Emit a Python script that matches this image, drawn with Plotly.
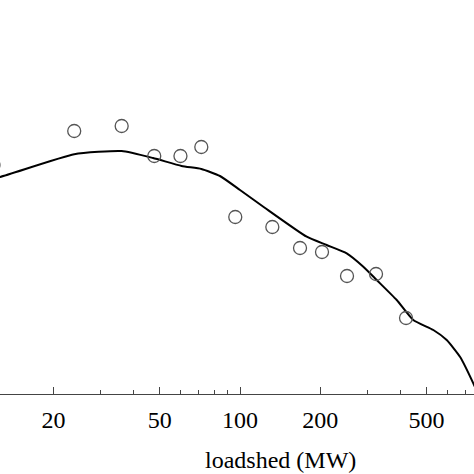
import plotly.graph_objects as go

# observed data (open circles)
obs_x = [11.9, 23.9, 36.0, 47.7, 59.8, 71.6, 96.0, 132.2, 167.9, 203.0, 251.9, 323.6, 419.3]
obs_y = [2.29, 2.63, 2.68, 2.38, 2.38, 2.47, 1.77, 1.67, 1.46, 1.42, 1.18, 1.20, 0.76]

# model curve
fit_x = [11.0, 12.6, 23.9, 36.0, 47.2, 60.4, 71.6, 84.1, 100.0, 122.3, 177.9, 211.3,
         251.3, 290.0, 325.5, 386.9, 446.4, 530.8, 595.7, 668.1, 749.6, 780.0]
fit_y = [2.14, 2.17, 2.397, 2.43, 2.36, 2.28, 2.25, 2.18, 2.04, 1.873, 1.573, 1.49,
         1.407, 1.273, 1.14, 0.94, 0.74, 0.64, 0.54, 0.373, 0.107, 0.0]

major_ticks = [20, 50, 100, 200, 500]
major_labels = ["20", "50", "100", "200", "500"]
minor_ticks = [30, 40, 60, 70, 80, 90, 300, 400, 600, 700]

fig = go.Figure()
fig.add_trace(go.Scatter(
    x=fit_x, y=fit_y, mode="lines",
    line=dict(color="black", width=2, shape="spline", smoothing=0.5),
    showlegend=False, hoverinfo="skip"))
fig.add_trace(go.Scatter(
    x=obs_x, y=obs_y, mode="markers",
    marker=dict(symbol="circle-open", size=13, color="#555555", line=dict(width=1.3)),
    showlegend=False, cliponaxis=True))

fig.update_layout(
    width=474, height=474,
    margin=dict(l=0, r=0, t=0, b=80),
    paper_bgcolor="white", plot_bgcolor="white",
    font=dict(family="Liberation Serif", size=24, color="black"),
    annotations=[dict(
        text="loadshed (MW)", xref="paper", yref="paper",
        x=280 / 474, y=(394 - 460) / 394, xanchor="center", yanchor="middle",
        showarrow=False, font=dict(family="Liberation Serif", size=24, color="black"))],
)
fig.update_xaxes(
    type="log", range=[1.1001, 2.8774],
    showline=True, linecolor="#444444", linewidth=1,
    showgrid=False, zeroline=False,
    ticks="inside", ticklen=7, tickwidth=1, tickcolor="#444444",
    tickmode="array", tickvals=major_ticks, ticktext=major_labels,
    tickfont=dict(family="Liberation Serif", size=24, color="black"),
    ticklabelstandoff=4,
    minor=dict(tickmode="array", tickvals=minor_ticks, ticks="inside",
               ticklen=4, tickwidth=1, tickcolor="#444444", showgrid=False),
)
fig.update_yaxes(range=[0, 3.94], visible=False, showgrid=False, zeroline=False)

fig.write_html("out.html")
